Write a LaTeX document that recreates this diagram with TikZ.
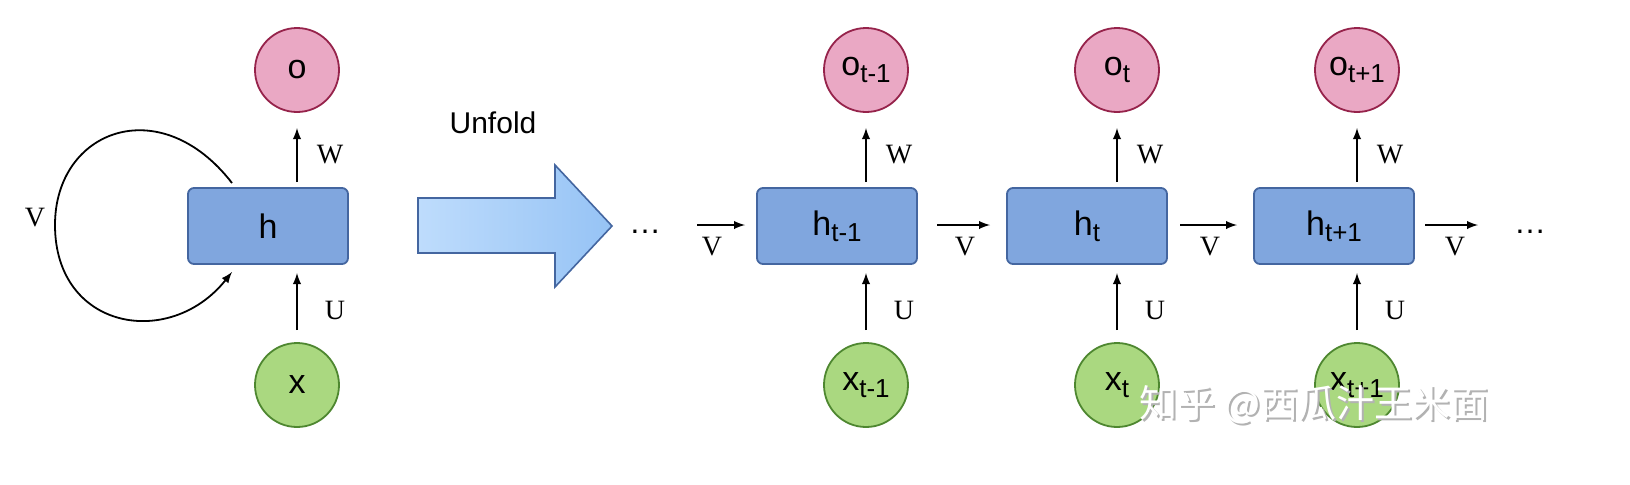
\documentclass[tikz,border=0pt]{standalone}
\usepackage{fontspec}
\setmainfont{Liberation Sans}
\newfontfamily\tms{Liberation Serif}
\newfontfamily\cjk{Noto Sans CJK SC}
\definecolor{pinkf}{RGB}{234,168,196}
\definecolor{pinkd}{RGB}{150,35,75}
\definecolor{greenf}{RGB}{170,216,128}
\definecolor{greend}{RGB}{78,135,48}
\definecolor{bluef}{RGB}{128,166,222}
\definecolor{blued}{RGB}{68,102,160}
\definecolor{arrL}{RGB}{190,220,252}
\definecolor{arrR}{RGB}{150,195,245}
\begin{document}
\begin{tikzpicture}[x=0.5pt,y=-0.5pt,
 onode/.style={circle,draw=pinkd,fill=pinkf,line width=0.9pt,minimum size=42pt,inner sep=0pt,font=\fontsize{17}{19}\selectfont},
 xnode/.style={circle,draw=greend,fill=greenf,line width=0.9pt,minimum size=42pt,inner sep=0pt,font=\fontsize{17}{19}\selectfont},
 hnode/.style={rectangle,rounded corners=3pt,draw=blued,fill=bluef,line width=0.9pt,minimum width=80pt,minimum height=38pt,inner sep=0pt,font=\fontsize{17}{19}\selectfont},
 arr/.style={-latex,line width=0.9pt},
 lab/.style={font=\tms\fontsize{14}{16}\selectfont}]
\useasboundingbox (0,0) rectangle (1630,484);
\fill[white] (0,0) rectangle (1630,484);
% left folded
\node[onode] (o) at (297,70) {o};
\node[hnode] (h) at (268,226) {h};
\node[xnode] (x) at (297,385) {x};
\coordinate (hw) at (297,182); \coordinate (ow) at (297,128);
\draw[arr] (hw) -- (ow);
\node[lab] at (330,155) {W};
\coordinate (xu) at (297,330); \coordinate (hu) at (297,273);
\draw[arr] (xu) -- (hu);
\node[lab] at (335,310) {U};
\coordinate (ls) at (232,183); \coordinate (le) at (232,272);
\draw[arr] (ls) .. controls (160,90) and (55,130) .. (55,225) .. controls (55,330) and (170,350) .. (le);
\node[lab] at (35,218) {V};
% unfold
\node[font=\fontsize{15}{17}\selectfont] at (493,123) {Unfold};
\shade[left color=arrL,right color=arrR,draw=blued,line width=0.8pt]
 (418,198) -- (555,198) -- (555,165) -- (612,226) -- (555,287) -- (555,253) -- (418,253) -- cycle;
\node[font=\fontsize{16}{18}\selectfont] at (645,232) {\dots};
\node[font=\fontsize{16}{18}\selectfont] at (1530,232) {\dots};
% unfolded cells
\foreach \n/\hx/\cx/\s in {a/837/866/{t-1},b/1087/1117/t,c/1334/1357/{t+1}}{
 \node[onode] (o\n) at (\cx,70) {o\raisebox{-0.35ex}{\fontsize{13}{14}\selectfont\s}};
 \node[hnode] (h\n) at (\hx,226) {h\raisebox{-0.35ex}{\fontsize{13}{14}\selectfont\s}};
 \node[xnode] (x\n) at (\cx,385) {x\raisebox{-0.35ex}{\fontsize{13}{14}\selectfont\s}};
 \coordinate (hw\n) at (\cx,182); \coordinate (ow\n) at (\cx,128);
 \draw[arr] (hw\n) -- (ow\n);
 \node[lab] at (\cx+33,155) {W};
 \coordinate (xu\n) at (\cx,330); \coordinate (hu\n) at (\cx,273);
 \draw[arr] (xu\n) -- (hu\n);
 \node[lab] at (\cx+38,310) {U};
}
\foreach \n/\a/\b/\lx in {p/697/745/712,q/937/990/965,r/1180/1237/1210,s/1425/1478/1455}{
 \coordinate (s\n) at (\a,225); \coordinate (e\n) at (\b,225);
 \draw[arr] (s\n) -- (e\n);
 \node[lab] at (\lx,247) {V};
}
% watermark
\node[font=\cjk\fontsize{19}{21}\selectfont,text=gray!60] at (1316,407) {知乎 @西瓜汁王米面};
\node[font=\cjk\fontsize{19}{21}\selectfont,text=white] at (1314,405) {知乎 @西瓜汁王米面};
\end{tikzpicture}
\end{document}
